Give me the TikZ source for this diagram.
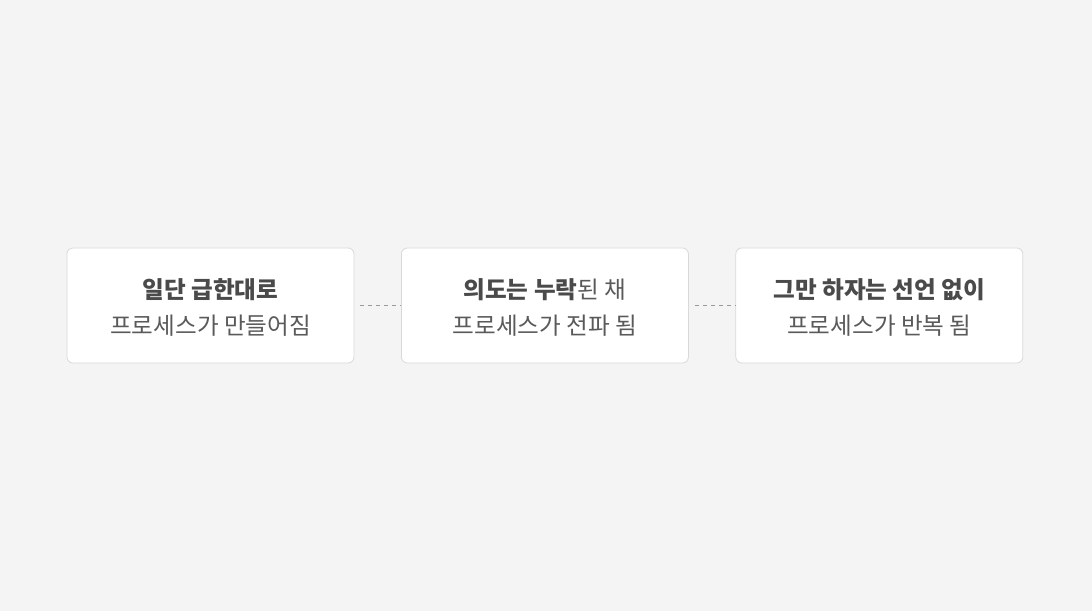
\documentclass[tikz,border=0pt]{standalone}
\usepackage{fontspec}
\newfontfamily\kr{Noto Sans CJK KR}
\usetikzlibrary{positioning}
\definecolor{bgc}{HTML}{F4F4F4}
\definecolor{edgec}{HTML}{D9D9D9}
\definecolor{txtc}{HTML}{5A5A5A}
\definecolor{boldc}{HTML}{4A4A4A}
\definecolor{dashc}{HTML}{999999}
\tikzset{
  stage/.style={draw=edgec, fill=white, rounded corners=6pt, line width=0.8pt,
    minimum width=287pt, minimum height=115pt},
  caption/.style={align=center, text=txtc, yshift=-1.5pt,
    font=\kr\fontsize{23.6pt}{36pt}\selectfont},
  link/.style={dashc, line width=1.5pt, dash pattern=on 4pt off 4pt}
}
\newcommand{\hl}[1]{{\bfseries\color{boldc}#1}}
\begin{document}
\begin{tikzpicture}[x=1pt,y=1pt]
\fill[bgc] (0,0) rectangle (1092,611);
\useasboundingbox (0,0) rectangle (1092,611);

\node[stage] (rush) at (210.5,305.5) {};
\node[stage, right=46.6pt of rush] (miss) {};
\node[stage, right=46.6pt of miss] (loop) {};

\node[caption] (rushtxt) at (rush) {\hl{일단 급한대로}\\프로세스가 만들어짐};
\node[caption] (misstxt) at (miss) {\hl{의도는 누락}된 채\\프로세스가 전파 됨};
\node[caption] (looptxt) at (loop) {\hl{그만 하자는 선언 없이}\\프로세스가 반복 됨};

\draw[link, shorten <=6pt] (rush) -- (miss);
\draw[link, shorten <=6pt] (miss) -- (loop);

\end{tikzpicture}
\end{document}
